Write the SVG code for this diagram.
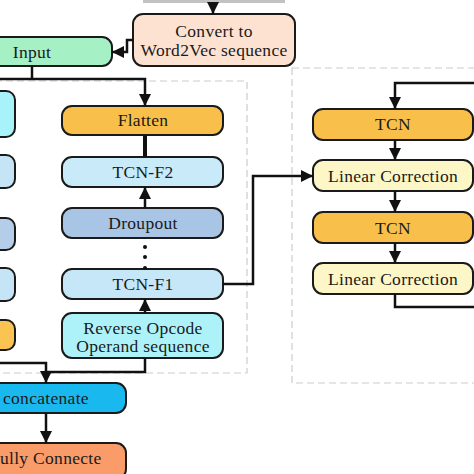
<svg xmlns="http://www.w3.org/2000/svg" width="474" height="474" viewBox="0 0 474 474">
<defs>
<marker id="ah" viewBox="0 0 10 10" refX="10" refY="5" markerWidth="12" markerHeight="12" markerUnits="userSpaceOnUse" orient="auto">
<path d="M0,0 L10,5 L0,10 z" fill="#111"/>
</marker>
<style>
.n{stroke:#1a1a1a;stroke-width:2}
.t{font-family:"Liberation Serif","Times New Roman",serif;font-size:17.5px;letter-spacing:0.3px;fill:#1a1a1a;text-anchor:middle}
.c{fill:none;stroke:#111;stroke-width:2.5}
.d{fill:none;stroke:#cccccc;stroke-width:1.2;stroke-dasharray:7 4}
</style>
</defs>
<rect width="474" height="474" fill="#fff"/>
<g id="containers">
<rect class="d" x="-5" y="81" width="252" height="292"/>
<rect class="d" x="292" y="68" width="200" height="315"/>
</g>
<g id="top-source"><rect x="143" y="-10" width="142" height="13" fill="#c2c2c2"/></g>
<g id="convert"><rect class="n" x="133" y="14" width="162" height="52" rx="10" fill="#fde2d2"/><text class="t" x="214" y="37">Convert to</text><text class="t" x="214" y="56">Word2Vec sequence</text></g>
<g id="input"><rect class="n" x="-40" y="37" width="152" height="29" rx="10" fill="#a6f0c6"/><text class="t" x="32" y="58" fill="#1a3322">Input</text></g>
<g id="left1"><rect class="n" x="-40" y="91" width="55" height="46" rx="9" fill="#a8f3fa"/></g>
<g id="left2"><rect class="n" x="-40" y="155" width="55" height="33" rx="9" fill="#c5e5f7"/></g>
<g id="left3"><rect class="n" x="-40" y="218" width="55" height="32" rx="9" fill="#b4cde9"/></g>
<g id="left4"><rect class="n" x="-40" y="268" width="55" height="33" rx="9" fill="#c5e5f7"/></g>
<g id="left5"><rect class="n" x="-40" y="320" width="55" height="30" rx="9" fill="#fbc452"/></g>
<g id="flatten"><rect class="n" x="62" y="106" width="161" height="29" rx="10" fill="#f8bf4a"/><text class="t" x="143" y="126">Flatten</text></g>
<g id="tcnf2"><rect class="n" x="62" y="157" width="161" height="30" rx="10" fill="#c8eaf9"/><text class="t" x="143" y="178">TCN-F2</text></g>
<g id="droupout"><rect class="n" x="62" y="208" width="161" height="30" rx="10" fill="#a8c5e6"/><text class="t" x="143" y="229">Droupout</text></g>
<g id="tcnf1"><rect class="n" x="62" y="269" width="161" height="30" rx="10" fill="#c6e7f8"/><text class="t" x="143" y="290">TCN-F1</text></g>
<g id="reverse"><rect class="n" x="62" y="313" width="161" height="45" rx="10" fill="#aef2f9"/><text class="t" x="143" y="334">Reverse Opcode</text><text class="t" x="143" y="352">Operand sequence</text></g>
<g id="concatenate"><rect class="n" x="-40" y="383" width="166" height="30" rx="10" fill="#19b9ef"/><text class="t" x="3" y="404" style="text-anchor:start">concatenate</text></g>
<g id="fully"><rect class="n" x="-40" y="443" width="166" height="36" rx="10" fill="#f99c6a"/><text class="t" x="0" y="464" style="text-anchor:start">ully Connecte</text></g>
<g id="tcn1"><rect class="n" x="313" y="109" width="160" height="31" rx="10" fill="#f8bf4a"/><text class="t" x="393" y="130">TCN</text></g>
<g id="lc1"><rect class="n" x="313" y="160" width="160" height="31" rx="10" fill="#fdf6c6"/><text class="t" x="393" y="182">Linear Correction</text></g>
<g id="tcn2"><rect class="n" x="313" y="212" width="160" height="31" rx="10" fill="#f8bf4a"/><text class="t" x="393" y="234">TCN</text></g>
<g id="lc2"><rect class="n" x="313" y="263" width="160" height="31" rx="10" fill="#fdf6c6"/><text class="t" x="393" y="285">Linear Correction</text></g>
<g id="connectors">
<path class="c" d="M213,3 V14" marker-end="url(#ah)"/>
<path class="c" d="M133,40 H127 V52 H112" marker-end="url(#ah)"/>
<path class="c" d="M0,79 H145 V106" marker-end="url(#ah)"/>
<path class="c" d="M32,66 V79"/>
<path class="c" d="M145,135 V157" style="stroke-width:4"/>
<path class="c" d="M145,208 V187" marker-end="url(#ah)"/>
<circle cx="145" cy="247" r="2" fill="#111"/>
<circle cx="145" cy="257" r="2" fill="#111"/>
<circle cx="145" cy="268" r="2" fill="#111"/>
<path class="c" d="M145,313 V299" marker-end="url(#ah)"/>
<path class="c" d="M145,358 V372 H46 V383" marker-end="url(#ah)"/>
<path class="c" d="M0,363 H46 V372"/>
<path class="c" d="M46,413 V443" marker-end="url(#ah)"/>
<path class="c" d="M223,284 H253 V176 H313" marker-end="url(#ah)"/>
<path class="c" d="M474,83 H395 V109" marker-end="url(#ah)"/>
<path class="c" d="M395,140 V160" marker-end="url(#ah)"/>
<path class="c" d="M395,191 V212" marker-end="url(#ah)"/>
<path class="c" d="M395,243 V263" marker-end="url(#ah)"/>
<path class="c" d="M395,294 V307 H474"/>
</g>
</svg>
